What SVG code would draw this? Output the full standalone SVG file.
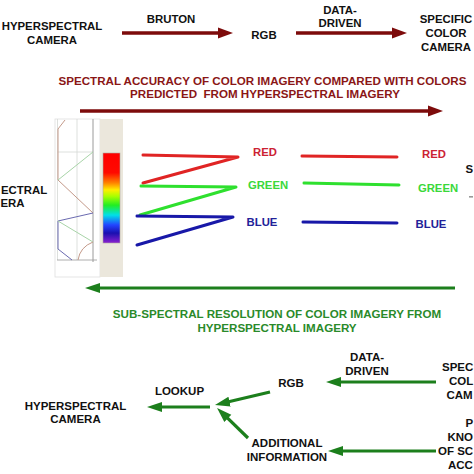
<svg xmlns="http://www.w3.org/2000/svg" width="474" height="474" viewBox="0 0 474 474">
<defs>
<style>
text{font-family:"Liberation Sans",Arial,sans-serif;font-weight:bold;text-anchor:middle}
.lb{font-size:11.4px;fill:#111}
.lb2{font-size:11.5px;fill:#111}
.st{text-anchor:start}
.tr{font-size:11.6px;fill:#8a1616}
.tg{font-size:11.6px;fill:#2a8a2a}
.ar{stroke:#7d0b0b;stroke-width:3.5;fill:none}
.ag{stroke:#1c7f1c;stroke-width:3.2;fill:none}
.cr{stroke:#e02424;stroke-width:3;fill:none;stroke-linecap:round;stroke-linejoin:round}
.cg{stroke:#2ee02e;stroke-width:3;fill:none;stroke-linecap:round;stroke-linejoin:round}
.cb{stroke:#1818a8;stroke-width:3;fill:none;stroke-linecap:round;stroke-linejoin:round}
.kr{font-size:11.3px;fill:#cc2233}
.kg{font-size:11.3px;fill:#3ad83a}
.kb{font-size:11.3px;fill:#222299}
.grid{stroke:#d4d8d4;stroke-width:0.8;fill:none}
</style>
<marker id="mr" markerUnits="userSpaceOnUse" markerWidth="16" markerHeight="12" refX="1" refY="6" orient="auto"><path d="M0,0.5 L15,6 L0,11.5 Z" fill="#7d0b0b"/></marker>
<marker id="mg" markerUnits="userSpaceOnUse" markerWidth="16" markerHeight="12" refX="1" refY="6" orient="auto"><path d="M0,1 L15,6 L0,11 Z" fill="#1c7f1c"/></marker>
<linearGradient id="spec" x1="0" y1="0" x2="0" y2="1">
<stop offset="0" stop-color="#ff0000"/>
<stop offset="0.22" stop-color="#ff0a00"/>
<stop offset="0.33" stop-color="#ff8000"/>
<stop offset="0.41" stop-color="#ffee00"/>
<stop offset="0.48" stop-color="#aaff00"/>
<stop offset="0.58" stop-color="#22ee22"/>
<stop offset="0.69" stop-color="#00e0e8"/>
<stop offset="0.80" stop-color="#2244ff"/>
<stop offset="0.89" stop-color="#1a10b0"/>
<stop offset="1" stop-color="#8a20d0"/>
</linearGradient>
</defs>
<rect width="474" height="474" fill="#ffffff"/>

<g id="connectors">
<line class="ar" x1="122" y1="33" x2="219" y2="33" marker-end="url(#mr)"/>
<line class="ar" x1="296" y1="33" x2="393" y2="33" marker-end="url(#mr)"/>
<line class="ar" x1="80" y1="111" x2="429" y2="111" marker-end="url(#mr)"/>
<line class="ag" x1="455" y1="288" x2="99" y2="288" marker-end="url(#mg)"/>
<line class="ag" x1="436" y1="382" x2="340" y2="382" marker-end="url(#mg)"/>
<line class="ag" x1="436" y1="451" x2="342" y2="451" marker-end="url(#mg)"/>
<line class="ag" x1="210" y1="407" x2="161" y2="407" marker-end="url(#mg)"/>
<line class="ag" x1="270" y1="392" x2="228.6" y2="401.8" marker-end="url(#mg)"/>
<line class="ag" x1="248" y1="438" x2="227.1" y2="417.7" marker-end="url(#mg)"/>
</g>

<g id="top-hyperspectral"><text class="lb" x="52" y="30">HYPERSPECTRAL</text><text class="lb" x="52" y="44">CAMERA</text></g>
<g id="bruton"><text class="lb" x="171" y="23">BRUTON</text></g>
<g id="top-rgb"><text class="lb" x="264" y="39">RGB</text></g>
<g id="top-datadriven"><text class="lb" x="340" y="14">DATA-</text><text class="lb" x="340" y="27">DRIVEN</text></g>
<g id="top-specific"><text class="lb" x="446" y="23">SPECIFIC</text><text class="lb" x="446" y="37">COLOR</text><text class="lb" x="446" y="51">CAMERA</text></g>

<g id="title-red"><text class="tr" x="262.5" y="85">SPECTRAL ACCURACY OF COLOR IMAGERY COMPARED WITH COLORS</text><text class="tr" x="265" y="98" xml:space="preserve">PREDICTED  FROM HYPERSPECTRAL IMAGERY</text></g>

<g id="mid-hyperspectral"><text class="lb st" x="1" y="194">ECTRAL</text><text class="lb st" x="0.5" y="207">ERA</text></g>

<g id="spectral-plot">
<rect x="55" y="119" width="45" height="158" fill="#ffffff" stroke="#dedede" stroke-width="0.8"/>
<rect x="100" y="119" width="23" height="158" fill="#ebe7dc"/>
<line class="grid" x1="57.5" y1="119" x2="57.5" y2="260"/>
<line class="grid" x1="77" y1="119" x2="77" y2="260"/>
<line class="grid" x1="57" y1="152" x2="93" y2="152"/>
<line x1="93" y1="119" x2="93" y2="262" stroke="#9a9a9a" stroke-width="1"/>
<line x1="57" y1="260" x2="97" y2="260" stroke="#9a9a9a" stroke-width="0.8"/>
<path d="M65,120 L58,129 L58,180 L93,213" fill="none" stroke="#c49a8a" stroke-width="1"/>
<path d="M93,152 L58,180" fill="none" stroke="#a8d4a8" stroke-width="1"/>
<path d="M93,213 L58,221 L58,249 L72,260" fill="none" stroke="#6a6ab0" stroke-width="1"/>
<path d="M58,221 L93,242" fill="none" stroke="#a8d4a8" stroke-width="1"/>
<path d="M93,242 Q80,247 78,260" fill="none" stroke="#c49a8a" stroke-width="1"/>
<rect x="103" y="153" width="17" height="90" fill="url(#spec)" stroke="#b0a8a0" stroke-width="0.6"/>
</g>

<g id="curves-left">
<path class="cr" d="M143,155 L238,157 L143,183"/>
<path class="cg" d="M141,186 L236,187 L140,215"/>
<path class="cb" d="M137,216 L233,217 L137,245"/>
</g>
<g id="labels-mid"><text class="kr" x="265" y="156">RED</text><text class="kg" x="268" y="189">GREEN</text><text class="kb" x="262" y="226">BLUE</text></g>
<g id="lines-right">
<line class="cr" x1="302" y1="156" x2="397" y2="157"/>
<line class="cg" x1="304" y1="183" x2="399" y2="185"/>
<line class="cb" x1="303" y1="222" x2="397" y2="223"/>
</g>
<g id="labels-right"><text class="kr" x="434" y="158">RED</text><text class="kg" x="438" y="192">GREEN</text><text class="kb" x="431" y="228">BLUE</text></g>
<g id="right-edge"><text class="lb st" x="465.5" y="173">S</text><rect x="469" y="196" width="4" height="1.6" fill="#999"/></g>

<g id="title-green"><text class="tg" x="277" y="318">SUB-SPECTRAL RESOLUTION OF COLOR IMAGERY FROM</text><text class="tg" x="277" y="332">HYPERSPECTRAL IMAGERY</text></g>

<g id="bottom-hyperspectral"><text class="lb2" x="75.5" y="410">HYPERSPECTRAL</text><text class="lb2" x="75.5" y="423">CAMERA</text></g>
<g id="lookup"><text class="lb2" x="179.5" y="395">LOOKUP</text></g>
<g id="bottom-rgb"><text class="lb2" x="291" y="387">RGB</text></g>
<g id="bottom-datadriven"><text class="lb2" x="367" y="361">DATA-</text><text class="lb2" x="367" y="375">DRIVEN</text></g>
<g id="additional"><text class="lb2" x="287" y="447">ADDITIONAL</text><text class="lb2" x="287" y="461">INFORMATION</text></g>
<g id="bottom-specific"><text class="lb2 st" x="442" y="371">SPEC</text><text class="lb2 st" x="449" y="385">COL</text><text class="lb2 st" x="446.5" y="399">CAM</text></g>
<g id="prior-knowledge"><text class="lb2 st" x="465.5" y="427">P</text><text class="lb2 st" x="447.5" y="441">KNO</text><text class="lb2 st" x="438" y="455">OF SC</text><text class="lb2 st" x="448" y="469">ACC</text></g>
</svg>
